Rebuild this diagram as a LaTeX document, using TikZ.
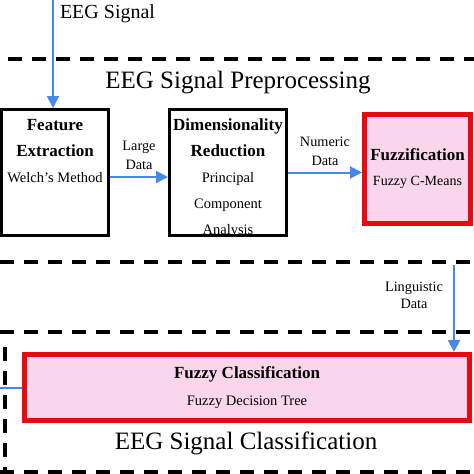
\documentclass[tikz,border=0pt]{standalone}
\usepackage{fontspec}
\setmainfont{Liberation Serif}
\usetikzlibrary{arrows.meta,positioning}
\definecolor{flowblue}{RGB}{70,135,235}
\definecolor{fuzzred}{RGB}{232,10,16}
\definecolor{fuzzpink}{RGB}{250,214,236}
\newcommand{\boxhead}[1]{{\fontsize{17}{26}\selectfont\bfseries #1}}
\tikzset{
  divider/.style={line width=4pt,dash pattern=on 14pt off 10pt},
  stagebox/.style={draw,line width=3pt,inner sep=0pt},
  fuzzbox/.style={draw=fuzzred,fill=fuzzpink,line width=5pt,inner sep=0pt,align=center},
  boxtext/.style={inner sep=0pt,align=center},
  flow/.style={draw=flowblue,line width=2pt,-{Triangle[length=12pt,width=12pt]}},
  flowlabel/.style={inner sep=0pt,align=center,font=\fontsize{14.3}{19}\selectfont},
  stagetitle/.style={inner sep=0pt,font=\fontsize{25}{30}\selectfont}
}
\begin{document}
\begin{tikzpicture}[x=1pt,y=-1pt]
            \useasboundingbox (0,0) rectangle (474,474);
            \draw[divider](8, 59) -- (474, 59);
            \draw[divider](0, 262) -- (474, 262);
            \draw[divider](0, 332) -- (474, 332);
            \draw[divider](0, 472) -- (474, 472);
            \draw[divider](5, 347) -- (5, 474);
            \node[stagetitle] (pre) at (238, 83) {EEG Signal Preprocessing};
            \node[stagetitle] (cls) at (246, 443) {EEG Signal Classification};
            \node[stagebox, minimum width=107, minimum height=126] (fe) at (55, 172.5) {};
            \node[stagebox, minimum width=117, minimum height=126] (dr) at (228, 172.5) {};
            \node[fuzzbox, minimum width=106, minimum height=109,
                  font=\fontsize{14}{25}\selectfont] (fz) at (417.5, 169)
                  {\boxhead{Fuzzification}\\Fuzzy C-Means};
            \node[fuzzbox, minimum width=445, minimum height=66,
                  font=\fontsize{14.5}{27}\selectfont] (fc) at (247, 387.5)
                  {\boxhead{Fuzzy Classification}\\Fuzzy Decision Tree};
            \node[boxtext, below=11pt of fe.north, font=\fontsize{14.5}{26}\selectfont] (fetext)
                  {\boxhead{Feature}\\\boxhead{Extraction}\\Welch's Method};
            \node[boxtext, below=11pt of dr.north, font=\fontsize{14.5}{26}\selectfont] (drtext)
                  {\boxhead{Dimensionality}\\\boxhead{Reduction}\\Principal\\Component\\Analysis};
            \coordinate (sig) at (53, 0);
            \coordinate (ling) at (454, 265);
            \coordinate (side) at (0, 387.5);
            \draw[flow] (sig) -- node[flowlabel, right=6pt, pos=.13, font=\fontsize{20}{24}\selectfont] {EEG Signal} (sig |- fe.north);
            \draw[flow] ([yshift=-4.5pt]fe.east) -- node[flowlabel, above=6pt] {Large\\Data} ([yshift=-4.5pt]dr.west);
            \draw[flow] (dr.east) -- node[flowlabel, above=6pt] {Numeric\\Data} (dr.east -| fz.west);
            \draw[flow] (ling) -- node[flowlabel, left=10pt, pos=.35, font=\fontsize{14.3}{17}\selectfont] {Linguistic\\Data} (ling |- fc.north);
            \draw[flowblue, line width=2pt] (side) -- (fc.west);
        \end{tikzpicture}
\end{document}
